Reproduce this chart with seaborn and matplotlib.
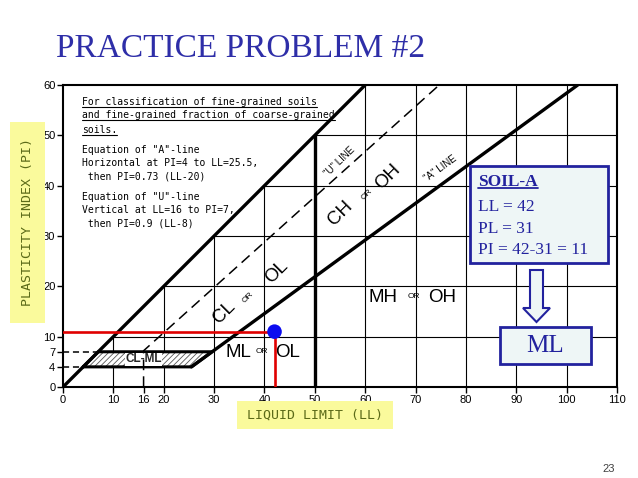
import matplotlib
matplotlib.use("Agg")
import matplotlib.pyplot as plt
import matplotlib.patches as mpatches
from matplotlib.lines import Line2D
import seaborn as sns

# Plasticity chart data (LL = liquid limit, PI = plasticity index)
ll_ticks = [0, 10, 16, 20, 30, 40, 50, 60, 70, 80, 90, 100, 110]
pi_ticks = [0, 4, 7, 10, 20, 30, 40, 50, 60]
grid_ll = [10, 20, 30, 40, 60, 70, 80, 90, 100]
grid_pi = [10, 20, 30, 40, 50]

limit_ll = [0, 60]
limit_pi = [0, 60]
a_line_ll = [25.5, 102.2]
a_line_pi = [4, 60]
u_line_ll = [16, 16, 74.7]
u_line_pi = [0, 7.2, 60]
ll50_ll = [50, 50]
ll50_pi = [0, 50]
clml_ll = [4, 25.5, 29.6, 7]
clml_pi = [4, 4, 7, 7]

soil_name = "SOIL-A"
soil_ll = 42
soil_pl = 31
soil_pi = 11
soil_class = "ML"

note_lines = [
    "For classification of fine-grained soils",
    "and fine-grained fraction of coarse-grained",
    "soils.",
    'Equation of "A"-line',
    "Horizontal at PI=4 to LL=25.5,",
    " then PI=0.73 (LL-20)",
    'Equation of "U"-line',
    "Vertical at LL=16 to PI=7,",
    " then PI=0.9 (LL-8)",
]

W, H = 638, 478
BLUE = "#22229e"
BOX_FILL = "#eef6f6"


def px(x, y):
    # slide pixel (from top-left) -> figure fraction
    return x / W, 1 - y / H


def underline(fig, txt, color, lw, gap=1.0, z=6):
    fig.canvas.draw()
    bb = txt.get_window_extent()
    inv = fig.transFigure.inverted()
    (x0, y0), (x1, _) = inv.transform([(bb.x0, bb.y0 + gap), (bb.x1, bb.y0)])
    fig.add_artist(Line2D([x0, x1], [y0, y0], transform=fig.transFigure,
                          color=color, lw=lw, zorder=z))


sns.set_theme(style="white")
plt.rcParams["font.family"] = ["Liberation Sans", "DejaVu Sans"]
plt.rcParams["hatch.linewidth"] = 0.6

fig = plt.figure(figsize=(W / 100, H / 100), dpi=100)
ax = fig.add_axes([63 / W, (H - 387) / H, 554 / W, 302 / H])
ax.set_xlim(0, 110)
ax.set_ylim(0, 60)

# grid only below the PI = LL line
for p in grid_pi:
    ax.plot([p, 110], [p, p], color="black", lw=0.8, zorder=1)
for l in grid_ll:
    ax.plot([l, l], [0, min(l, 60)], color="black", lw=0.8, zorder=1)

# main lines
sns.lineplot(x=limit_ll, y=limit_pi, ax=ax, color="black", lw=2.4,
             estimator=None, sort=False, zorder=3)
sns.lineplot(x=a_line_ll, y=a_line_pi, ax=ax, color="black", lw=2.4,
             estimator=None, sort=False, zorder=3)
ax.plot(ll50_ll, ll50_pi, color="black", lw=2.4, zorder=3)
ax.plot(u_line_ll, u_line_pi, color="black", lw=1.1, dashes=(7, 4), zorder=4)

# CL-ML zone
ax.fill(clml_ll, clml_pi, facecolor="white", edgecolor="#555555",
        hatch="//////", lw=0, zorder=2)
ax.plot(clml_ll + clml_ll[:1], clml_pi + clml_pi[:1], color="black", lw=2.2, zorder=3)
ax.plot([0, clml_ll[3]], [clml_pi[3]] * 2, color="black", lw=1.1, dashes=(4, 2.5), zorder=3)
ax.plot([0, clml_ll[0]], [clml_pi[0]] * 2, color="black", lw=1.1, dashes=(4, 2.5), zorder=3)
ax.text(16, 5.5, "CL-ML", ha="center", va="center", fontsize=8.5, fontweight="bold",
        zorder=3, bbox=dict(facecolor="white", edgecolor="none", pad=0.3))

# region labels
lab = dict(ha="center", va="center", color="black", zorder=5)
ax.text(32.1, 14.9, "CL", fontsize=13.5, rotation=45, **lab)
ax.text(36.7, 17.7, "OR", fontsize=6, rotation=45, **lab)
ax.text(42.5, 22.9, "OL", fontsize=13.5, rotation=45, **lab)
ax.text(55.0, 34.6, "CH", fontsize=13.5, rotation=45, **lab)
ax.text(60.3, 38.2, "OR", fontsize=6, rotation=45, **lab)
ax.text(64.5, 41.7, "OH", fontsize=13.5, rotation=45, **lab)
ax.text(34.8, 6.8, "ML", fontsize=13.5, **lab)
ax.text(39.5, 7.0, "OR", fontsize=6, **lab)
ax.text(44.5, 6.8, "OL", fontsize=13.5, **lab)
ax.text(63.5, 17.7, "MH", fontsize=13.5, **lab)
ax.text(69.7, 17.9, "OR", fontsize=6, **lab)
ax.text(75.2, 17.7, "OH", fontsize=13.5, **lab)
ax.text(55.0, 44.7, '"U" LINE', fontsize=7, rotation=44, **lab)
ax.text(75.0, 43.5, '"A" LINE', fontsize=7, rotation=36, **lab)

# soil point
ax.plot([0, soil_ll], [soil_pi, soil_pi], color="#e00000", lw=1.9, zorder=6)
ax.plot([soil_ll, soil_ll], [0, soil_pi], color="#e00000", lw=1.9, zorder=6)
sns.scatterplot(x=[soil_ll], y=[soil_pi], ax=ax, s=110, color="#0c0cf0",
                edgecolor="none", zorder=7)

# axes styling
ax.set_xticks(ll_ticks)
ax.set_yticks(pi_ticks)
ax.tick_params(axis="both", direction="out", length=4, width=1, labelsize=8,
               color="black", labelcolor="black", pad=1.5)
ax.tick_params(axis="x", bottom=True)
ax.tick_params(axis="y", left=True)
for s in ax.spines.values():
    s.set_color("black")
    s.set_linewidth(1.5)
ax.set_xlabel("")
ax.set_ylabel("")

# note block
note_x = [82, 82, 82, 82, 82, 82, 82, 82, 82]
note_y = [102, 115, 130, 150, 163, 176, 197, 210, 223]
note_txt = []
for s, x, y in zip(note_lines, note_x, note_y):
    note_txt.append(fig.text(*px(x, y), s, fontsize=7, va="center", ha="left",
                             family="DejaVu Sans Mono", color="black", zorder=5))

# axis label boxes
fig.add_artist(mpatches.Rectangle(px(10, 323), 35 / W, 201 / H, transform=fig.transFigure,
                                  facecolor="#fafa9c", edgecolor="none", zorder=1))
fig.text(*px(27.5, 222.5), "PLASTICITY INDEX (PI)", rotation=90, ha="center", va="center",
         fontsize=9.5, family="DejaVu Sans Mono", color="#5b6a18", zorder=2)
fig.add_artist(mpatches.Rectangle(px(237, 429), 156 / W, 28 / H, transform=fig.transFigure,
                                  facecolor="#fafa9c", edgecolor="none", zorder=1))
fig.text(*px(315, 415), "LIQUID LIMIT (LL)", ha="center", va="center",
         fontsize=9.5, family="DejaVu Sans Mono", color="#5b6a18", zorder=2)

# title
fig.text(*px(56, 57), "PRACTICE PROBLEM #2", fontsize=24, family="Liberation Serif",
         color="#2e2ea8", ha="left", va="baseline")

# soil info box
fig.add_artist(mpatches.Rectangle(px(470, 263), 138 / W, 97 / H, transform=fig.transFigure,
                                  facecolor=BOX_FILL, edgecolor=BLUE, lw=2, zorder=8))
serif = dict(family="Liberation Serif", color=BLUE, ha="left", va="center", zorder=9)
t_name = fig.text(*px(478, 182), soil_name, fontsize=12.5, fontweight="bold", **serif)
fig.text(*px(478, 207), f"LL = {soil_ll}", fontsize=12.5, **serif)
fig.text(*px(478, 229), f"PL = {soil_pl}", fontsize=12.5, **serif)
fig.text(*px(478, 250), f"PI = {soil_ll}-{soil_pl} = {soil_pi}", fontsize=12.5, **serif)

# arrow
arrow_pts = [px(530, 270), px(543, 270), px(543, 308), px(550, 308),
             px(536.5, 322), px(523, 308), px(530, 308)]
fig.add_artist(mpatches.Polygon(arrow_pts, closed=True, transform=fig.transFigure,
                                facecolor=BOX_FILL, edgecolor=BLUE, lw=1.5, zorder=8))

# result box
fig.add_artist(mpatches.Rectangle(px(500, 364), 91 / W, 37 / H, transform=fig.transFigure,
                                  facecolor=BOX_FILL, edgecolor=BLUE, lw=2, zorder=8))
fig.text(*px(545.5, 346), soil_class, fontsize=18, family="Liberation Serif", color=BLUE,
         ha="center", va="center", zorder=9)

# page number
fig.text(*px(609, 469), "23", fontsize=8, color="#404040", ha="center", va="center")

# underlines
for t in note_txt[:3]:
    underline(fig, t, "black", 0.8, gap=0.5)
underline(fig, t_name, BLUE, 1.3, gap=2.0, z=10)

fig.savefig("out.png", dpi=100)
